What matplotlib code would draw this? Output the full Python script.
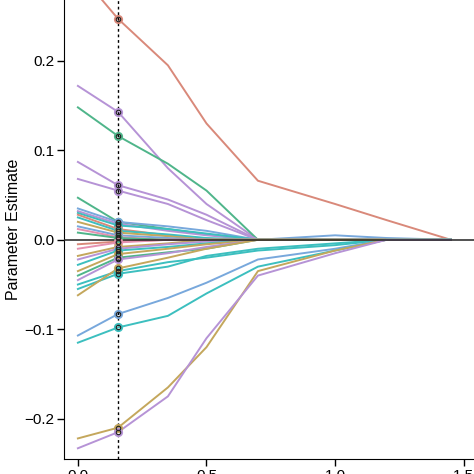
import numpy as np
import matplotlib
matplotlib.use("Agg")
import matplotlib.pyplot as plt

plt.rcParams['font.family'] = ['Liberation Sans Narrow', 'Liberation Sans', 'DejaVu Sans']

# lambda grid where the path values were read
x_knots = [0.0, 0.156, 0.35, 0.5, 0.7, 1.0, 1.2, 1.45]
lam_sel = 0.156

c_or = '#d9897a'; c_pu = '#b693d6'; c_gr = '#4fb58a'; c_te = '#3cbfbf'
c_bl = '#78a8dc'; c_go = '#c4a75c'; c_pk = '#e591b0'

paths = [
    (c_or, [0.300, 0.247, 0.195, 0.130, 0.066, 0.040, 0.022, 0.0]),
    (c_pu, [0.172, 0.143, 0.080, 0.040, 0.0, 0.0, 0.0, 0.0]),
    (c_gr, [0.148, 0.116, 0.085, 0.055, 0.0, 0.0, 0.0, 0.0]),
    (c_pu, [0.087, 0.061, 0.045, 0.028, 0.0, 0.0, 0.0, 0.0]),
    (c_pu, [0.068, 0.055, 0.040, 0.022, 0.0, 0.0, 0.0, 0.0]),
    (c_gr, [0.047, 0.020, 0.012, 0.006, 0.0, 0.0, 0.0, 0.0]),
    (c_bl, [0.035, 0.020, 0.015, 0.010, 0.0, 0.005, 0.002, 0.0]),
    (c_pu, [0.032, 0.018, 0.010, 0.005, 0.0, 0.0, 0.0, 0.0]),
    (c_te, [0.030, 0.016, 0.012, 0.007, 0.0, 0.0, 0.0, 0.0]),
    (c_or, [0.028, 0.012, 0.005, 0.0, 0.0, 0.0, 0.0, 0.0]),
    (c_te, [0.025, 0.010, 0.006, 0.002, 0.0, 0.0, 0.0, 0.0]),
    (c_go, [0.020, 0.008, 0.004, 0.0, 0.0, 0.0, 0.0, 0.0]),
    (c_bl, [0.015, 0.005, 0.002, 0.0, 0.0, 0.0, 0.0, 0.0]),
    (c_pk, [0.012, 0.003, 0.0, 0.0, 0.0, 0.0, 0.0, 0.0]),
    (c_gr, [0.008, 0.002, 0.0, 0.0, 0.0, 0.0, 0.0, 0.0]),
    (c_or, [-0.005, -0.002, 0.0, 0.0, 0.0, 0.0, 0.0, 0.0]),
    (c_pk, [-0.010, -0.003, 0.0, 0.0, 0.0, 0.0, 0.0, 0.0]),
    (c_go, [-0.018, -0.008, -0.004, 0.0, 0.0, 0.0, 0.0, 0.0]),
    (c_pu, [-0.022, -0.010, -0.005, -0.002, 0.0, 0.0, 0.0, 0.0]),
    (c_te, [-0.028, -0.012, -0.008, -0.004, 0.0, 0.0, 0.0, 0.0]),
    (c_go, [-0.035, -0.016, -0.010, -0.005, 0.0, 0.0, 0.0, 0.0]),
    (c_gr, [-0.040, -0.020, -0.014, -0.010, 0.0, 0.0, 0.0, 0.0]),
    (c_pu, [-0.045, -0.022, -0.015, -0.008, 0.0, 0.0, 0.0, 0.0]),
    (c_te, [-0.050, -0.035, -0.025, -0.020, -0.012, -0.006, 0.0, 0.0]),
    (c_te, [-0.055, -0.038, -0.030, -0.018, -0.010, -0.004, 0.0, 0.0]),
    (c_go, [-0.062, -0.032, -0.020, -0.010, 0.0, 0.0, 0.0, 0.0]),
    (c_bl, [-0.107, -0.083, -0.065, -0.048, -0.022, -0.010, 0.0, 0.0]),
    (c_te, [-0.115, -0.098, -0.085, -0.060, -0.030, -0.012, 0.0, 0.0]),
    (c_go, [-0.222, -0.210, -0.165, -0.120, -0.035, -0.012, 0.0, 0.0]),
    (c_pu, [-0.233, -0.215, -0.175, -0.110, -0.040, -0.015, 0.0, 0.0]),
]

fig = plt.figure(figsize=(4.74, 4.74), dpi=100)
ax = fig.add_axes([64/474, 15/474, 410/474, 459/474])

for col, ys in paths:
    ax.plot(x_knots, ys, color=col, lw=1.4, zorder=2)
for col, ys in paths:
    ax.plot(x_knots[1], ys[1], 'o', ms=5, mfc='none', mec=col, mew=1.6, zorder=4)
    ax.plot(x_knots[1], ys[1], 'o', ms=3.2, mfc='none', mec='#222222', mew=0.8, zorder=5)

ax.axhline(0, color='#222222', lw=1.1, zorder=3)
ax.axvline(lam_sel, color='black', ls=(0, (2, 2)), lw=1.0, zorder=3)

ax.set_xlim(-0.054, 1.54)
ax.set_ylim(-0.245, 0.268)
ax.set_xticks([0.0, 0.5, 1.0, 1.5])
ax.set_xticklabels(['0.0', '0.5', '1.0', '1.5'])
ax.set_yticks([-0.2, -0.1, 0.0, 0.1, 0.2])
ax.set_yticklabels(['\u22120.2', '\u22120.1', '0.0', '0.1', '0.2'])
ax.tick_params(labelsize=11, width=1, length=5, pad=2)
ax.spines['top'].set_visible(False)
ax.spines['right'].set_visible(False)
ax.set_ylabel('Parameter Estimate', fontsize=11.5, labelpad=2)

fig.savefig('out.png', dpi=100)
